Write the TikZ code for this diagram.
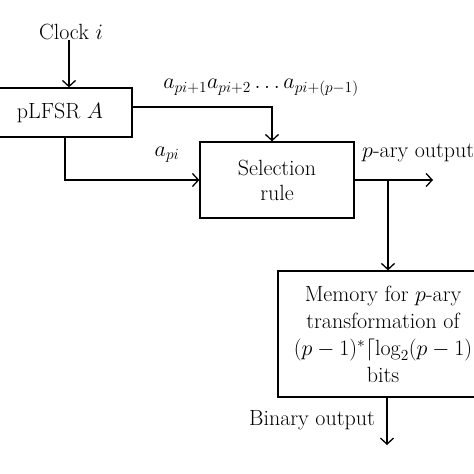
\RequirePackage{fix-cm}
\documentclass[tikz,border=0pt]{standalone}
\usepackage{fontspec}
\usetikzlibrary{arrows.meta,calc}
\begin{document}
\begin{tikzpicture}[x=1pt,y=-1pt,
  every node/.style={font=\fontsize{22}{27}\selectfont, inner sep=0pt},
  box/.style={draw, line width=1.3pt, align=center},
  arr/.style={line width=1.3pt, -{Straight Barb[length=6pt,width=13pt,line width=1.3pt]}}]
\useasboundingbox (0,0) rectangle (474,474);
\node (clock) at (71,32) {Clock $i$};
\node[box, minimum width=144pt, minimum height=49pt] (lfsr) at (60,112.5) {pLFSR $A$};
\node[box, minimum width=154pt, minimum height=76pt] (sel) at (277,180) {Selection\\[-2pt]rule};
\node[box, minimum width=210pt, minimum height=126pt] (mem) at (383,334) {Memory for $p$-ary\\transformation of\\$(p-1)^{*}\lceil\log_2(p-1)$\\bits};
\node (lab1) at (261,88) {$a_{pi+1}a_{pi+2}\ldots a_{pi+(p-1)}$};
\node (lab2) at (167,155) {$a_{pi}$};
\node[anchor=west] (lab3) at (362,153) {$p$-ary output};
\node (lab4) at (312,420) {Binary output};
\coordinate (out) at (433,180);
\coordinate (br) at (388,180);
\coordinate (bo) at (387,445);
\draw[arr] ([xshift=-2pt]clock.south) -- ([xshift=-2pt]clock.south |- lfsr.north);
\draw[arr] ([yshift=5.5pt]lfsr.east) -| ([xshift=-5pt]sel.north);
\draw[arr] ([xshift=5pt]lfsr.south) |- (sel.west);
\draw[arr] (sel.east) -- (out);
\draw[arr] (br) -- (br |- mem.north);
\draw[arr] (bo |- mem.south) -- (bo);
\end{tikzpicture}
\end{document}
